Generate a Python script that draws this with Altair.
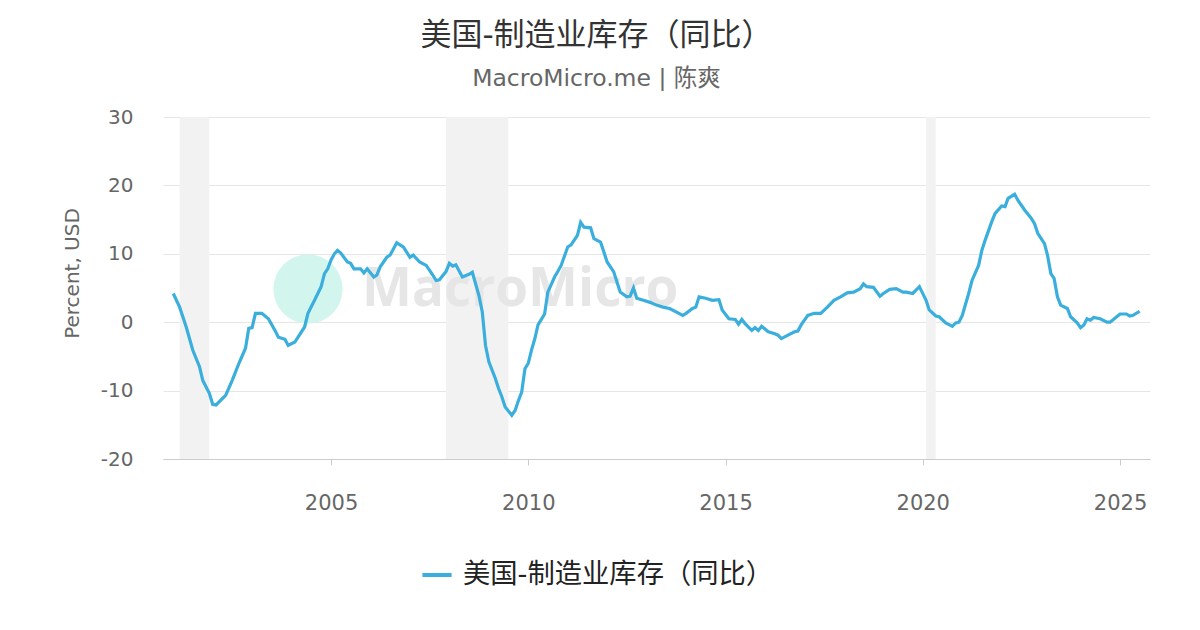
import altair as alt
import pandas as pd

SERIES = "美国-制造业库存（同比）"

dates = [
    "2001-01", "2001-03", "2001-05", "2001-07", "2001-09", "2001-10", "2001-12",
    "2002-01", "2002-02", "2002-05", "2002-07", "2002-09", "2002-11", "2002-12",
    "2003-01", "2003-02", "2003-04", "2003-06", "2003-08", "2003-09", "2003-11", "2003-12",
    "2004-02", "2004-05", "2004-06", "2004-08", "2004-10", "2004-11", "2004-12",
    "2005-01", "2005-02", "2005-03", "2005-04", "2005-06", "2005-07", "2005-08", "2005-10", "2005-11", "2005-12",
    "2006-02", "2006-03", "2006-04", "2006-06", "2006-07", "2006-09", "2006-10", "2006-11",
    "2007-01", "2007-02", "2007-04", "2007-06", "2007-08", "2007-09", "2007-10", "2007-12",
    "2008-01", "2008-02", "2008-03", "2008-05", "2008-07", "2008-08", "2008-10", "2008-11", "2008-12",
    "2009-01", "2009-03", "2009-04", "2009-05", "2009-06", "2009-08", "2009-09", "2009-10", "2009-11", "2009-12",
    "2010-01", "2010-02", "2010-03", "2010-04", "2010-06", "2010-07", "2010-09", "2010-10", "2010-11",
    "2011-01", "2011-02", "2011-04", "2011-05", "2011-06", "2011-08", "2011-09", "2011-11", "2011-12",
    "2012-01", "2012-03", "2012-05", "2012-07", "2012-08", "2012-09", "2012-10", "2012-12",
    "2013-02", "2013-04", "2013-06", "2013-08", "2013-10", "2013-12",
    "2014-01", "2014-03", "2014-04", "2014-05", "2014-07", "2014-09", "2014-11", "2014-12",
    "2015-02", "2015-04", "2015-05", "2015-06", "2015-07", "2015-09", "2015-10", "2015-11", "2015-12",
    "2016-02", "2016-04", "2016-05", "2016-06", "2016-08", "2016-10", "2016-11", "2016-12",
    "2017-02", "2017-04", "2017-06", "2017-08", "2017-10", "2017-12",
    "2018-02", "2018-04", "2018-06", "2018-07", "2018-08", "2018-10", "2018-12",
    "2019-01", "2019-03", "2019-05", "2019-07", "2019-08", "2019-10", "2019-12",
    "2020-02", "2020-03", "2020-05", "2020-06", "2020-08", "2020-10", "2020-11", "2020-12",
    "2021-01", "2021-03", "2021-04", "2021-06", "2021-07", "2021-08", "2021-10", "2021-11",
    "2022-01", "2022-02", "2022-03", "2022-05", "2022-06", "2022-08", "2022-10", "2022-11", "2022-12",
    "2023-02", "2023-03", "2023-04", "2023-05", "2023-06", "2023-07", "2023-09", "2023-10", "2023-12",
    "2024-01", "2024-02", "2024-03", "2024-04", "2024-05", "2024-07", "2024-09", "2024-10", "2024-12",
    "2025-01", "2025-03", "2025-04", "2025-05", "2025-07",
]

values = [
    4.2, 2.2, -0.7, -4.1, -6.5, -8.5, -10.4,
    -12.0, -12.1, -10.7, -8.5, -6.0, -3.8, -0.9,
    -0.8, 1.3, 1.3, 0.5, -1.2, -2.2, -2.5, -3.4,
    -2.9, -0.7, 1.3, 3.2, 5.2, 7.1, 7.8,
    9.1, 10.0, 10.5, 10.1, 8.8, 8.6, 7.8, 7.8, 7.2, 7.8,
    6.6, 6.9, 8.1, 9.5, 9.8, 11.6, 11.3, 11.0,
    9.5, 9.8, 8.8, 8.3, 6.9, 6.1, 6.2, 7.4,
    8.6, 8.2, 8.4, 6.6, 7.0, 7.3, 3.9, 1.5, -3.4,
    -5.8, -8.2, -9.7, -10.9, -12.4, -13.6, -12.9, -11.5, -10.2, -6.8,
    -6.0, -4.0, -2.5, -0.4, 1.2, 4.4, 6.6, 7.4, 8.3,
    11.0, 11.3, 12.7, 14.6, 13.9, 13.8, 12.2, 11.7, 10.3,
    8.8, 7.4, 4.4, 3.7, 3.8, 5.0, 3.5, 3.2,
    2.9, 2.5, 2.2, 2.0, 1.5, 1.0,
    1.3, 2.0, 2.2, 3.7, 3.5, 3.2, 3.3, 1.8,
    0.5, 0.4, -0.3, 0.4, -0.2, -1.2, -0.8, -1.2, -0.6,
    -1.4, -1.7, -1.9, -2.4, -1.9, -1.4, -1.3, -0.4,
    1.0, 1.3, 1.3, 2.2, 3.2, 3.7,
    4.3, 4.4, 4.9, 5.6, 5.2, 5.1, 3.8,
    4.2, 4.8, 4.9, 4.4, 4.4, 4.2, 5.2,
    3.2, 1.8, 0.9, 0.8, -0.1, -0.6, -0.1, 0.0,
    1.0, 4.2, 6.1, 8.3, 10.5, 12.0, 14.7, 15.9,
    17.0, 16.9, 18.1, 18.7, 17.8, 16.4, 15.2, 14.4, 13.0,
    11.5, 9.8, 7.1, 6.4, 3.7, 2.5, 2.0, 0.8, -0.1,
    -0.8, -0.4, 0.5, 0.3, 0.7, 0.5, 0.0, 0.0, 0.8,
    1.2, 1.2, 0.9, 1.0, 1.6,
]

rec_start = ["2001-03-01", "2007-12-01", "2020-02-01"]
rec_end = ["2001-11-30", "2009-06-30", "2020-04-30"]

y_ticks = [-20, -10, 0, 10, 20, 30]

df = pd.DataFrame({
    "date": pd.to_datetime([d + "-01" for d in dates]),
    "value": values,
    "series": SERIES,
})
rec = pd.DataFrame({"start": pd.to_datetime(rec_start), "end": pd.to_datetime(rec_end)})

FONT = "DejaVu Sans, Noto Sans CJK SC"

x_scale = alt.Scale(domain=[alt.DateTime(year=2000, month=9, date=28),
                            alt.DateTime(year=2025, month=10, date=5)])
y_scale = alt.Scale(domain=[-20, 30], nice=False)

x_axis = alt.Axis(
    title=None, format="%Y", tickCount={"interval": "year", "step": 5},
    grid=False, domainColor="#cccccc", tickColor="#cccccc", tickSize=6,
    labelFontSize=21, labelColor="#666666", labelPadding=27, labelFont=FONT,
)
y_axis = alt.Axis(
    title="Percent, USD", values=y_ticks, grid=True, gridColor="#e6e6e6",
    domain=False, ticks=False, labelFontSize=20, labelColor="#666666",
    labelExpr="datum.value + ''",
    labelPadding=30, labelFont=FONT, titleFontSize=20, titleColor="#666666",
    titleFontWeight="normal", titlePadding=18, titleFont=FONT, titleY=156,
)

bands = alt.Chart(rec).mark_rect(color="#f2f2f2").encode(
    x=alt.X("start:T", scale=x_scale, axis=x_axis),
    x2="end:T",
    y=alt.Y(datum=30, scale=y_scale, axis=y_axis),
    y2=alt.Y2(datum=-20),
)

wm_circle = alt.Chart(pd.DataFrame({"k": [0]})).mark_point(
    filled=True, shape="circle", size=4800, color="#d2f5ee", opacity=1
).encode(x=alt.value(145), y=alt.value(172))

wm_text = alt.Chart(pd.DataFrame({"t": ["MacroMicro"]})).mark_text(
    font="Open Sans", fontWeight="bold", fontSize=53, color="#e6e6e6",
    align="left", baseline="middle"
).encode(x=alt.value(199), y=alt.value(173), text="t:N")

line = alt.Chart(df).mark_line(strokeWidth=3.2).encode(
    x=alt.X("date:T", scale=x_scale, axis=x_axis),
    y=alt.Y("value:Q", scale=y_scale, axis=y_axis),
    color=alt.Color(
        "series:N",
        scale=alt.Scale(range=["#3aaedc"]),
        legend=alt.Legend(
            title=None, orient="none", legendX=257, legendY=441,
            symbolType="stroke", symbolStrokeWidth=4, symbolSize=850,
            labelFontSize=27.3, labelColor="#222222", labelFont=FONT,
            labelOffset=9, padding=0, labelLimit=700,
        ),
    ),
)

chart = alt.layer(bands, wm_circle, wm_text, line).properties(
    width=987,
    height=342,
    autosize=alt.AutoSizeParams(type="none"),
    padding={"left": 155, "top": 109, "right": 42, "bottom": 163},
    title=alt.TitleParams(
        text=SERIES,
        subtitle="MacroMicro.me | 陈爽",
        fontSize=31, fontWeight="normal", color="#333333", font=FONT,
        subtitleFontSize=23.5, subtitleColor="#666666", subtitleFont=FONT,
        anchor="middle", dx=-60, offset=16, subtitlePadding=15,
    ),
).configure(font=FONT).configure_view(stroke=None)

chart.save("out.html", embed_options={"renderer": "svg", "actions": False})
